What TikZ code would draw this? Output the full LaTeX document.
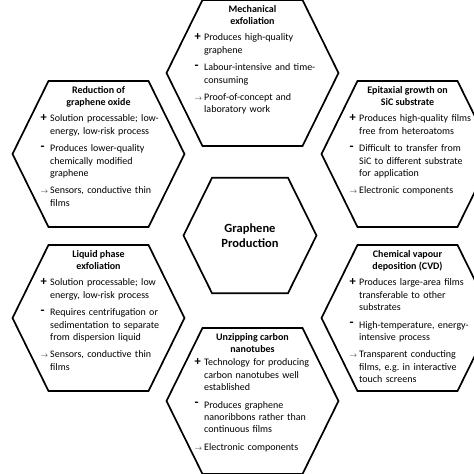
\documentclass[tikz,border=0pt]{standalone}
\usepackage{fontspec}
\setmainfont{Carlito}
\usetikzlibrary{calc}
\tikzset{
  hexcell/.style={draw=black,line width=1.7pt,line join=miter},
  hexhead/.style={font=\bfseries\fontsize{10}{12.3}\selectfont,align=center,
    inner sep=0pt,anchor=north},
  hexbody/.style={font=\fontsize{10}{12.3}\selectfont,align=left,
    inner sep=0pt,anchor=north west,text width=124pt},
  hubtext/.style={font=\bfseries\fontsize{12.5}{15.4}\selectfont,align=center,
    inner sep=0pt}
}
\newcommand\hexitem[2]{\noindent\makebox[9.5pt][l]{#1}%
  \parbox[t]{114pt}{\raggedright\strut#2\strut}\par\vspace{4.3pt}}
\newcommand\pluss{{\fontsize{12.5}{12.3}\selectfont\bfseries +}}
\newcommand\minuss{\raisebox{1.2pt}{\fontsize{13}{12.3}\selectfont\bfseries -}}
\newcommand\thenn{\resizebox{7.5pt}{!}{$\rightarrow$}}

\begin{document}
\begin{tikzpicture}[x=1pt,y=-1pt]
  \useasboundingbox (0,0) rectangle (474,474);
  \clip (0,0) rectangle (474,474);
  % centre hexagon
  \coordinate (hubc) at (250,235.5);
  \draw[hexcell,shift={(hubc)}] (-66.5,0) -- (-38,-57.7) -- (38,-57.7)
    -- (66.5,0) -- (38,57.7) -- (-38,57.7) -- cycle;
  \node[hubtext] (hub) at (hubc) {Graphene\\Production};
  % outer hexagons and their titles
  \foreach \nm/\cx/\cy/\ttl in {
    mech/252.5/73/{Mechanical\\exfoliation},
    rgo/98.5/154/{Reduction of\\graphene oxide},
    epi/407.5/154/{Epitaxial growth on\\SiC substrate},
    lpe/98.5/318/{Liquid phase\\exfoliation},
    cvd/407.5/318/{Chemical vapour\\deposition (CVD)},
    cnt/252.5/401/{Unzipping carbon\\nanotubes}}{
      \coordinate (\nm) at (\cx,\cy);
      \draw[hexcell,shift={(\nm)}] (-86,0) -- (-50,-73) -- (50,-73)
        -- (86,0) -- (50,73) -- (-50,73) -- cycle;
      \node[hexhead] (\nm T) at (\cx,\cy-69.5) {\strut\ttl};
  }
  \node[hexbody] (mechB) at ($(mech)+(-58,-41)$) {%
    \hexitem{\pluss}{Produces high-quality\\graphene}
    \hexitem{\minuss}{Labour-intensive and time-\\consuming}
    \hexitem{\thenn}{Proof-of-concept and\\laboratory work}};
  \node[hexbody] (rgoB) at ($(rgo)+(-58,-41)$) {%
    \hexitem{\pluss}{Solution processable; low-\\energy, low-risk process}
    \hexitem{\minuss}{Produces lower-quality\\chemically modified\\graphene}
    \hexitem{\thenn}{Sensors, conductive thin\\films}};
  \node[hexbody] (epiB) at ($(epi)+(-58,-41)$) {%
    \hexitem{\pluss}{Produces high-quality films\\free from heteroatoms}
    \hexitem{\minuss}{Difficult to transfer from\\SiC to different substrate\\for application}
    \hexitem{\thenn}{Electronic components}};
  \node[hexbody] (lpeB) at ($(lpe)+(-58,-41)$) {%
    \hexitem{\pluss}{Solution processable; low\\energy, low-risk process}
    \hexitem{\minuss}{Requires centrifugation or\\sedimentation to separate\\from dispersion liquid}
    \hexitem{\thenn}{Sensors, conductive thin\\films}};
  \node[hexbody] (cvdB) at ($(cvd)+(-58,-41)$) {%
    \hexitem{\pluss}{Produces large-area films\\transferable to other\\substrates}
    \hexitem{\minuss}{High-temperature, energy-\\intensive process}
    \hexitem{\thenn}{Transparent conducting\\films, e.g.\ in interactive\\touch screens}};
  \node[hexbody] (cntB) at ($(cnt)+(-58,-44)$) {%
    \hexitem{\pluss}{Technology for producing\\carbon nanotubes well\\established}
    \hexitem{\minuss}{Produces graphene\\nanoribbons rather than\\continuous films}
    \hexitem{\thenn}{Electronic components}};
\end{tikzpicture}
\end{document}
